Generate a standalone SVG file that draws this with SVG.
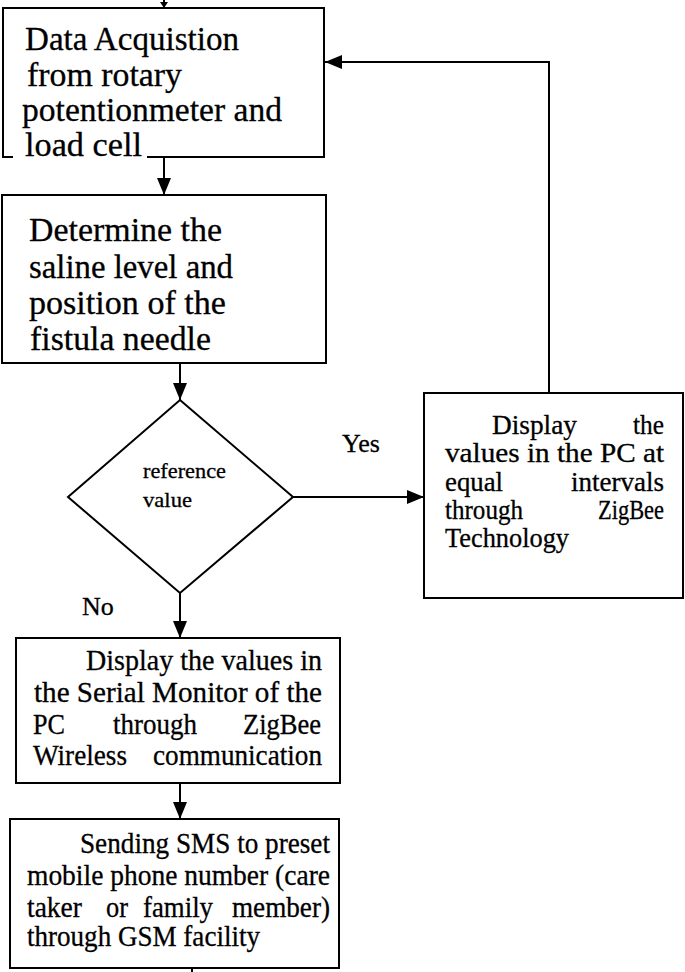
<svg xmlns="http://www.w3.org/2000/svg" width="685" height="972" viewBox="0 0 685 972">
<defs>
<marker id="ah" markerUnits="userSpaceOnUse" markerWidth="18" markerHeight="16" refX="17" refY="7" orient="auto">
<path d="M0,0 L17,7 L0,14 z" fill="#000"/>
</marker>
<style>
.b{fill:#fff;stroke:#000;stroke-width:2}
.ln{fill:none;stroke:#000;stroke-width:2}
.tx text{font-family:'Liberation Serif','DejaVu Serif','Times New Roman',serif;fill:#000;stroke:#000;stroke-width:0.3}
.t1{font-size:34px}
.t2{font-size:29px}
.t4{font-size:27px}
.t3{font-size:21px}
.lb{font-size:26px}
</style>
</defs>
<rect width="685" height="972" fill="#fff"/>
<g id="connectors">
<line class="ln" x1="164" y1="0" x2="164" y2="8"/>
<polygon points="160,2 168,2 164,8" fill="#000"/>
<line class="ln" x1="164" y1="157" x2="164" y2="195" marker-end="url(#ah)"/>
<line class="ln" x1="180" y1="363" x2="180" y2="400" marker-end="url(#ah)"/>
<line class="ln" x1="180" y1="593" x2="180" y2="638" marker-end="url(#ah)"/>
<line class="ln" x1="180" y1="783" x2="180" y2="819" marker-end="url(#ah)"/>
<line class="ln" x1="293" y1="497" x2="424" y2="497" marker-end="url(#ah)"/>
<polyline class="ln" points="549,393 549,62 325,62" marker-end="url(#ah)"/>
<line class="ln" x1="192" y1="968" x2="192" y2="972"/>
</g>
<g class="tx" font-family="Liberation Serif, DejaVu Serif, serif">
<g id="n1">
<path class="ln" d="M13,157 L3,157 L3,8 L324,8 L324,157 L147,157"/>
<text class="t1" x="25" y="50" textLength="214" lengthAdjust="spacingAndGlyphs">Data Acquistion</text>
<text class="t1" x="27" y="86" textLength="155" lengthAdjust="spacingAndGlyphs">from rotary</text>
<text class="t1" x="22" y="121" textLength="260" lengthAdjust="spacingAndGlyphs">potentionmeter and</text>
<text class="t1" x="25" y="156" textLength="117" lengthAdjust="spacingAndGlyphs">load cell</text>
</g>
<g id="n2">
<rect class="b" x="2" y="195" width="324" height="168"/>
<text class="t1" x="29" y="241" textLength="193" lengthAdjust="spacingAndGlyphs">Determine the</text>
<text class="t1" x="29" y="278" textLength="204" lengthAdjust="spacingAndGlyphs">saline level and</text>
<text class="t1" x="29" y="314" textLength="197" lengthAdjust="spacingAndGlyphs">position of the</text>
<text class="t1" x="30" y="350" textLength="181" lengthAdjust="spacingAndGlyphs">fistula needle</text>
</g>
<g id="n3">
<polygon class="b" points="180,400 293,497 180,593 68,497"/>
<text class="t3" x="143" y="478" textLength="83" lengthAdjust="spacingAndGlyphs">reference</text>
<text class="t3" x="143" y="507" textLength="49" lengthAdjust="spacingAndGlyphs">value</text>
</g>
<g id="labels">
<text class="lb" x="342" y="452">Yes</text>
<text class="lb" x="82" y="615">No</text>
</g>
<g id="n4">
<rect class="b" x="424" y="393" width="259" height="205"/>
<text class="t4" x="492" y="434" textLength="85" lengthAdjust="spacingAndGlyphs">Display</text>
<text class="t4" x="633" y="434" textLength="31" lengthAdjust="spacingAndGlyphs">the</text>
<text class="t4" x="445" y="462" textLength="219" lengthAdjust="spacingAndGlyphs">values in the PC at</text>
<text class="t4" x="445" y="491" textLength="58" lengthAdjust="spacingAndGlyphs">equal</text>
<text class="t4" x="571" y="491" textLength="93" lengthAdjust="spacingAndGlyphs">intervals</text>
<text class="t4" x="445" y="519" textLength="78" lengthAdjust="spacingAndGlyphs">through</text>
<text class="t4" x="598" y="519" textLength="66" lengthAdjust="spacingAndGlyphs">ZigBee</text>
<text class="t4" x="445" y="547" textLength="124" lengthAdjust="spacingAndGlyphs">Technology</text>
</g>
<g id="n5">
<rect class="b" x="16" y="638" width="324" height="145"/>
<text class="t2" x="86" y="670" textLength="236" lengthAdjust="spacingAndGlyphs">Display the values in</text>
<text class="t2" x="34" y="702" textLength="288" lengthAdjust="spacingAndGlyphs">the Serial Monitor of the</text>
<text class="t2" x="33" y="734" textLength="32" lengthAdjust="spacingAndGlyphs">PC</text>
<text class="t2" x="113" y="734" textLength="84" lengthAdjust="spacingAndGlyphs">through</text>
<text class="t2" x="243" y="734" textLength="78" lengthAdjust="spacingAndGlyphs">ZigBee</text>
<text class="t2" x="33" y="765" textLength="94" lengthAdjust="spacingAndGlyphs">Wireless</text>
<text class="t2" x="153" y="765" textLength="169" lengthAdjust="spacingAndGlyphs">communication</text>
</g>
<g id="n6">
<rect class="b" x="10" y="819" width="329" height="149"/>
<text class="t2" x="80" y="853" textLength="250" lengthAdjust="spacingAndGlyphs">Sending SMS to preset</text>
<text class="t2" x="27" y="885" textLength="303" lengthAdjust="spacingAndGlyphs">mobile phone number (care</text>
<text class="t2" x="27" y="917" textLength="55" lengthAdjust="spacingAndGlyphs">taker</text>
<text class="t2" x="106" y="917" textLength="22" lengthAdjust="spacingAndGlyphs">or</text>
<text class="t2" x="143" y="917" textLength="70" lengthAdjust="spacingAndGlyphs">family</text>
<text class="t2" x="232" y="917" textLength="98" lengthAdjust="spacingAndGlyphs">member)</text>
<text class="t2" x="27" y="946" textLength="233" lengthAdjust="spacingAndGlyphs">through GSM facility</text>
</g>
</g>
</svg>
